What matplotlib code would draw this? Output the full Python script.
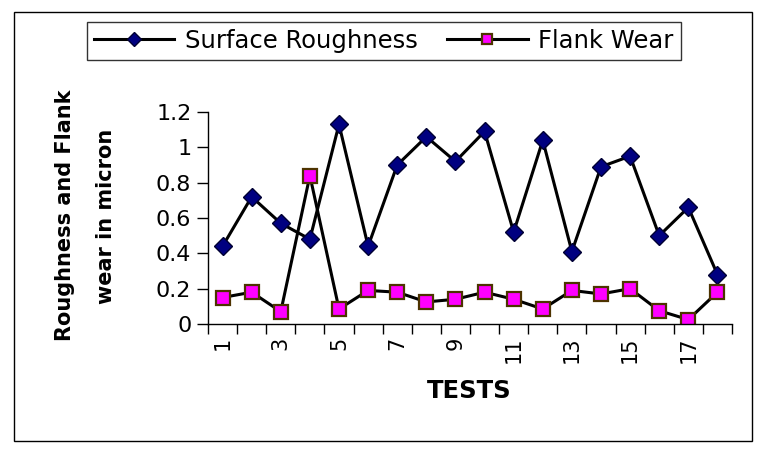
import matplotlib
matplotlib.use("Agg")
import matplotlib.pyplot as plt
from matplotlib.patches import Rectangle

tests = list(range(1, 19))
roughness = [0.44, 0.72, 0.57, 0.48, 1.13, 0.44, 0.90, 1.06, 0.92,
             1.09, 0.52, 1.04, 0.41, 0.89, 0.95, 0.50, 0.66, 0.28]
flank_wear = [0.15, 0.18, 0.07, 0.84, 0.085, 0.19, 0.18, 0.125, 0.14,
              0.18, 0.14, 0.085, 0.19, 0.17, 0.20, 0.075, 0.025, 0.18]
y_ticks = [0, 0.2, 0.4, 0.6, 0.8, 1, 1.2]
y_labels = ["0", "0.2", "0.4", "0.6", "0.8", "1", "1.2"]

W, H = 757, 463
fig = plt.figure(figsize=(W / 100, H / 100), dpi=100)
ax = fig.add_axes([208 / W, 1 - 324 / H, (732 - 208) / W, (324 - 112) / H])

ax.plot(tests, roughness, color="black", lw=2.2, marker="D", ms=9,
        mfc="#000080", mec="#000033", mew=1, label="Surface Roughness")
ax.plot(tests, flank_wear, color="black", lw=2.2, marker="s", ms=9.5,
        mfc="#ff00ff", mec="#4d3300", mew=1.6, label="Flank Wear")

ax.set_xlim(0.5, 18.5)
ax.set_ylim(0, 1.2)
for s in ("top", "right"):
    ax.spines[s].set_visible(False)
for s in ("left", "bottom"):
    ax.spines[s].set_linewidth(1)

# ticks on category boundaries, labels on every other category
ax.set_xticks([i + 0.5 for i in range(0, 19)])
ax.set_xticklabels([])
ax.set_xticks(tests[::2], minor=True)
ax.set_xticklabels([str(t) for t in tests[::2]], minor=True, rotation=90,
                   fontsize=15)
ax.tick_params(axis="x", which="major", direction="out", length=7, width=1)
ax.tick_params(axis="x", which="minor", length=0, pad=9)
ax.set_yticks(y_ticks)
ax.set_yticklabels(y_labels, fontsize=16)
ax.tick_params(axis="y", direction="out", length=8, width=1, pad=4)

fig.text(469 / W, 1 - 391 / H, "TESTS", ha="center", va="center",
         fontsize=17.5, fontweight="bold")
fig.text(65 / W, 1 - 215 / H, "Roughness and Flank", rotation=90,
         ha="center", va="center", fontsize=15, fontweight="bold")
fig.text(106 / W, 1 - 216 / H, "wear in micron", rotation=90,
         ha="center", va="center", fontsize=15, fontweight="bold")

leg = fig.legend(loc="center", bbox_to_anchor=(384 / W, 1 - 41 / H),
                 ncol=2, fontsize=17.5, frameon=True, fancybox=False,
                 edgecolor="black", handlelength=3.3, columnspacing=1.2,
                 handletextpad=0.45, borderpad=0.3, borderaxespad=0,
                 markerscale=0.8)
leg.get_frame().set_linewidth(1)

fig.add_artist(Rectangle((14 / W, 1 - 441 / H), (752 - 14) / W,
                         (441 - 11.5) / H, transform=fig.transFigure,
                         fill=False, edgecolor="black", lw=1))

fig.savefig("out.png", dpi=100)
